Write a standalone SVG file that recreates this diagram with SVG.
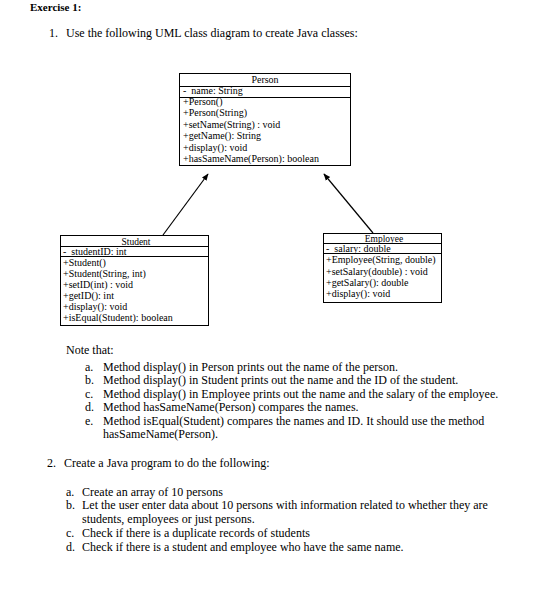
<svg xmlns="http://www.w3.org/2000/svg" width="541" height="605" viewBox="0 0 541 605">
<style>
text{font-family:"Liberation Serif","Times New Roman",serif;fill:#000}
.t{font-size:12px}
.b{font-size:11px;font-weight:bold}
.c{font-size:10px}
.h{font-size:9.5px}
.box{fill:#fff;stroke:#000;stroke-width:1}
.ln{stroke:#000;stroke-width:1}
.con{stroke:#000;stroke-width:1.2;fill:none}
</style>
<defs>
<marker id="ah" viewBox="0 0 10 10" refX="9" refY="5" markerWidth="7" markerHeight="7" orient="auto" markerUnits="userSpaceOnUse">
<path d="M0,1 L10,5 L0,9 z" fill="#000"/>
</marker>
</defs>
<rect width="541" height="605" fill="#fff"/>
<text class="b" x="30" y="11">Exercise 1:</text>
<text class="t" x="49" y="37">1.</text>
<text class="t" x="66" y="37">Use the following UML class diagram to create Java classes:</text>

<g id="connectors">
<line class="con" x1="163" y1="235" x2="208" y2="174" marker-end="url(#ah)"/>
<line class="con" x1="373" y1="233" x2="324" y2="174" marker-end="url(#ah)"/>
</g>

<g id="person">
<rect class="box" x="179.5" y="73.5" width="171" height="92"/>
<line class="ln" x1="179.5" y1="86.5" x2="350.5" y2="86.5"/>
<line class="ln" x1="179.5" y1="97.5" x2="350.5" y2="97.5"/>
<text class="c" x="265" y="83" text-anchor="middle">Person</text>
<text class="c" x="183" y="94">-&#160;&#160;name: String</text>
<text class="c" x="183" y="105">+Person()</text>
<text class="c" x="183" y="116">+Person(String)</text>
<text class="c" x="183" y="128">+setName(String) : void</text>
<text class="c" x="183" y="139">+getName(): String</text>
<text class="c" x="183" y="151">+display(): void</text>
<text class="c" x="183" y="162">+hasSameName(Person): boolean</text>
</g>

<g id="student">
<rect class="box" x="60.5" y="235.5" width="148" height="90"/>
<line class="ln" x1="60.5" y1="246.5" x2="208.5" y2="246.5"/>
<line class="ln" x1="60.5" y1="256.5" x2="208.5" y2="256.5"/>
<text class="h" x="136" y="244.5" text-anchor="middle">Student</text>
<text class="c" x="63" y="254.5">-&#160;&#160;studentID: int</text>
<text class="c" x="63" y="266">+Student()</text>
<text class="c" x="63" y="277">+Student(String, int)</text>
<text class="c" x="63" y="288">+setID(int) : void</text>
<text class="c" x="63" y="299">+getID(): int</text>
<text class="c" x="63" y="310">+display(): void</text>
<text class="c" x="63" y="321">+isEqual(Student): boolean</text>
</g>

<g id="employee">
<rect class="box" x="323.5" y="233.5" width="118" height="69"/>
<line class="ln" x1="323.5" y1="243.5" x2="441.5" y2="243.5"/>
<line class="ln" x1="323.5" y1="253.5" x2="441.5" y2="253.5"/>
<text class="h" x="384" y="242" text-anchor="middle">Employee</text>
<text class="c" x="326" y="251.5">-&#160;&#160;salary: double</text>
<text class="c" x="326" y="263">+Employee(String, double)</text>
<text class="c" x="326" y="275">+setSalary(double) : void</text>
<text class="c" x="326" y="286">+getSalary(): double</text>
<text class="c" x="326" y="297">+display(): void</text>
</g>

<text class="t" x="66" y="354">Note that:</text>
<text class="t" x="85" y="371">a.</text>
<text class="t" x="103" y="371">Method display() in Person prints out the name of the person.</text>
<text class="t" x="85" y="384">b.</text>
<text class="t" x="103" y="384">Method display() in Student prints out the name and the ID of the student.</text>
<text class="t" x="85" y="398">c.</text>
<text class="t" x="103" y="398">Method display() in Employee prints out the name and the salary of the employee.</text>
<text class="t" x="85" y="411">d.</text>
<text class="t" x="103" y="411">Method hasSameName(Person) compares the names.</text>
<text class="t" x="85" y="425">e.</text>
<text class="t" x="103" y="425">Method isEqual(Student) compares the names and ID. It should use the method</text>
<text class="t" x="103" y="438">hasSameName(Person).</text>

<text class="t" x="47" y="467">2.</text>
<text class="t" x="64" y="467">Create a Java program to do the following:</text>
<text class="t" x="66" y="496">a.</text>
<text class="t" x="82" y="496">Create an array of 10 persons</text>
<text class="t" x="66" y="509">b.</text>
<text class="t" x="82" y="509">Let the user enter data about 10 persons with information related to whether they are</text>
<text class="t" x="82" y="523">students, employees or just persons.</text>
<text class="t" x="66" y="537">c.</text>
<text class="t" x="82" y="537">Check if there is a duplicate records of students</text>
<text class="t" x="66" y="551">d.</text>
<text class="t" x="82" y="551">Check if there is a student and employee who have the same name.</text>
</svg>
